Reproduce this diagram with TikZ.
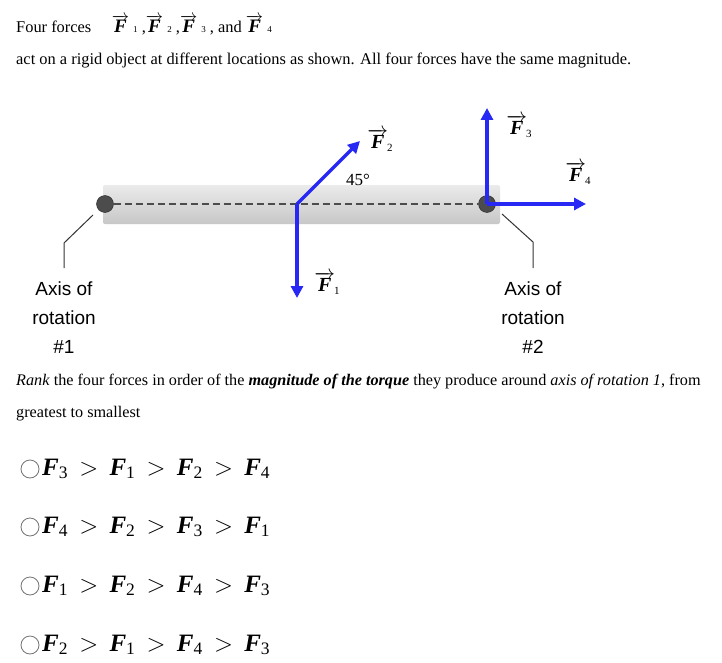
\documentclass[tikz,border=0pt]{standalone}
\usepackage{fontspec}
\setmainfont{Liberation Serif}
\newfontfamily\sans{Liberation Sans}
\usetikzlibrary{arrows.meta}
\definecolor{fblue}{RGB}{40,40,245}
\newcommand{\vF}[1]{{\fontsize{19}{20}\selectfont$\overrightarrow{\textbf{\textit{F}}}$}\ {\fontsize{9}{10}\selectfont #1}}
\newcommand{\lF}[1]{$\overrightarrow{\textbf{\textit{F}}}$\kern-1pt\raisebox{-3pt}{\fontsize{11}{12}\selectfont #1}}
\newcommand{\oF}[1]{\textbf{\textit{F}}\textsubscript{#1}}
\newcommand{\gt}{\hspace{0.45em}{\fontsize{27}{28}\selectfont$>$}\hspace{0.45em}}
\begin{document}
\begin{tikzpicture}[x=1pt,y=-1pt,
  force/.style={draw=fblue,line width=3.4pt,-{Triangle[length=12pt,width=12pt]}},
  lead/.style={draw=black!80,line width=1pt},
  txt/.style={anchor=west,inner sep=0pt,font=\fontsize{16.4}{18}\selectfont},
  opt/.style={anchor=west,inner sep=0pt,font=\fontsize{25}{26}\selectfont},
  lab/.style={inner sep=0pt,font=\fontsize{20}{22}\selectfont},
  pivot/.style={circle,fill=black!70,draw=black!85,minimum size=17pt,inner sep=0pt}]
\useasboundingbox (0,0) rectangle (722,663);
\fill[white] (0,0) rectangle (722,663);
% header
\node[txt] (h1) at (16,25) {Four forces \quad\vF{1} ,\vF{2} ,\vF{3} , and \vF{4}};
\node[txt] (h2) at (16,60) {act on a rigid object at different locations as shown. All four forces have the same magnitude.};
% rod
\shade[top color=black!8,bottom color=black!22,rounded corners=2pt] (103,185) rectangle (500,224);
\node[pivot] (p1) at (105,204) {};
\node[pivot] (p2) at (487,204) {};
\coordinate (m) at (297,204);
\draw[dashed,dash pattern=on 7pt off 4pt,line width=1.2pt,black!70] (p1) -- (p2);
% forces
\coordinate (e1) at (297,298);
\coordinate (e2) at (360,141);
\coordinate (e3) at (487,108);
\coordinate (e4) at (586,204);
\draw[force] (m) -- (e1);
\draw[force] (m) -- (e2);
\draw[force] (p2.center) -- (e3);
\draw[force] (p2.center) -- (e4);
\node[lab] (l1) at (327,283) {\lF{1}};
\node[lab] (l2) at (380,140) {\lF{2}};
\node[lab] (l3) at (519,126) {\lF{3}};
\node[lab] (l4) at (578,173) {\lF{4}};
\node[font=\fontsize{17}{20}\selectfont] (ang) at (358,180) {45°};
% leaders
\coordinate (a1) at (64,243);
\coordinate (b1) at (64,268);
\coordinate (a2) at (533,242);
\coordinate (b2) at (533,268);
\draw[lead] (93,215) -- (a1) -- (b1);
\draw[lead] (502,214) -- (a2) -- (b2);
\node[align=center,inner sep=0pt,font=\sans\fontsize{19}{29}\selectfont] (ax1) at (64,318) {Axis of\\rotation\\\#1};
\node[align=center,inner sep=0pt,font=\sans\fontsize{19}{29}\selectfont] (ax2) at (533,318) {Axis of\\rotation\\\#2};
% question
\node[txt,font=\fontsize{16.2}{19}\selectfont] (q1) at (16,382) {\textit{Rank} the four forces in order of the \textit{\textbf{magnitude of the torque}} they produce around \textit{axis of rotation 1}, from};
\node[txt,font=\fontsize{16.2}{19}\selectfont] (q2) at (16,414) {greatest to smallest};
% options
\foreach \y/\t [count=\i] in {469/{\oF{3}\gt\oF{1}\gt\oF{2}\gt\oF{4}},
  527/{\oF{4}\gt\oF{2}\gt\oF{3}\gt\oF{1}},
  586/{\oF{1}\gt\oF{2}\gt\oF{4}\gt\oF{3}},
  645/{\oF{2}\gt\oF{1}\gt\oF{4}\gt\oF{3}}}{
  \node[circle,draw=black!55,line width=0.8pt,minimum size=18pt,inner sep=0pt] (c\i) at (30,\y) {};
  \node[opt] (o\i) at (42,\y) {\t};
}
\end{tikzpicture}
\end{document}
